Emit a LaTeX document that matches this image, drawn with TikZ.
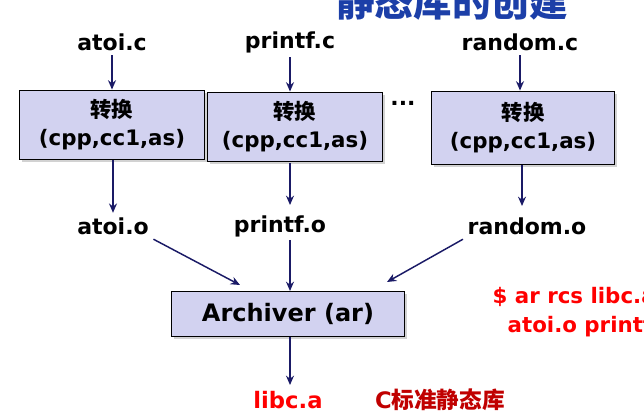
\documentclass[tikz,border=0pt]{standalone}
\usepackage{fontspec}
\setmainfont{DejaVu Sans}
\newfontfamily\cjk{Noto Sans CJK SC}
\usetikzlibrary{shadows,arrows.meta}
\definecolor{boxfill}{HTML}{D2D2F0}
\definecolor{arr}{HTML}{1A1A66}
\definecolor{ttl}{HTML}{1C3FA8}
\definecolor{dred}{HTML}{C00000}
\begin{document}
\begin{tikzpicture}[x=0.75pt,y=-0.75pt,
  box/.style={draw=black,line width=1.2pt,fill=boxfill,drop shadow={shadow xshift=2pt,shadow yshift=-2pt,fill=gray!70},align=center,inner sep=0pt,font=\bfseries\fontsize{16}{21}\selectfont},
  lbl/.style={font=\bfseries\fontsize{16.5}{19}\selectfont},
  ar/.style={draw=arr,line width=1.1pt,-{Stealth[length=7pt,width=6pt]}}]
\useasboundingbox (0,0) rectangle (644,420);
\clip (0,0) rectangle (644,420);
\node[text=ttl,font=\cjk\bfseries\fontsize{29}{30}\selectfont,anchor=center] (title) at (452,2) {静态库的创建};
\node[lbl] (ac) at (112,42) {atoi.c};
\node[lbl] (pc) at (290,42) {printf.c};
\node[lbl] (rc) at (520,42) {random.c};
\node[box,minimum width=139pt,minimum height=52pt] (b1) at (112,125) {{\cjk 转换}\\(cpp,cc1,as)};
\node[box,minimum width=131pt,minimum height=52pt] (b2) at (295,127) {{\cjk 转换}\\(cpp,cc1,as)};
\node[box,minimum width=137pt,minimum height=55pt] (b3) at (523,128) {{\cjk 转换}\\(cpp,cc1,as)};
\node[lbl] (dots) at (403,103) {...};
\node[lbl] (ao) at (113,226) {atoi.o};
\node[lbl] (po) at (280,226) {printf.o};
\node[lbl] (ro) at (527,226) {random.o};
\node[box,minimum width=175pt,minimum height=34pt,font=\bfseries\fontsize{18}{21}\selectfont] (arc) at (288,314) {Archiver (ar)};
\node[text=red,font=\bfseries\fontsize{17}{19}\selectfont] (lib) at (288,400) {libc.a};
\node[text=dred,font=\bfseries\fontsize{17}{19}\selectfont] (cstd) at (440,400) {C{\cjk 标准静态库}};
\node[text=red,font=\bfseries\fontsize{16}{19}\selectfont,anchor=west] (cmd1) at (488,297) {\$ ar rcs libc.a \textbackslash};
\node[text=red,font=\bfseries\fontsize{16}{19}\selectfont,anchor=west] (cmd2) at (503,327) {atoi.o printf.o};
\coordinate (bot) at (290,385);
\draw[ar] (ac) -- (ac |- b1.north);
\draw[ar] (pc) -- (pc |- b2.north);
\draw[ar] (rc) -- (rc |- b3.north);
\draw[ar] (b1.south -| ao) -- (ao);
\draw[ar] (290,163) -- (290,205);
\draw[ar] (b3.south -| 522,0) -- (522,206);
\draw[ar] (ao.south east) -- (240,285);
\draw[ar] (290,240) -- (290,291);
\draw[ar] (ro.south west) -- (387,282);
\draw[ar] (arc.south -| bot) -- (bot);
\end{tikzpicture}
\end{document}
